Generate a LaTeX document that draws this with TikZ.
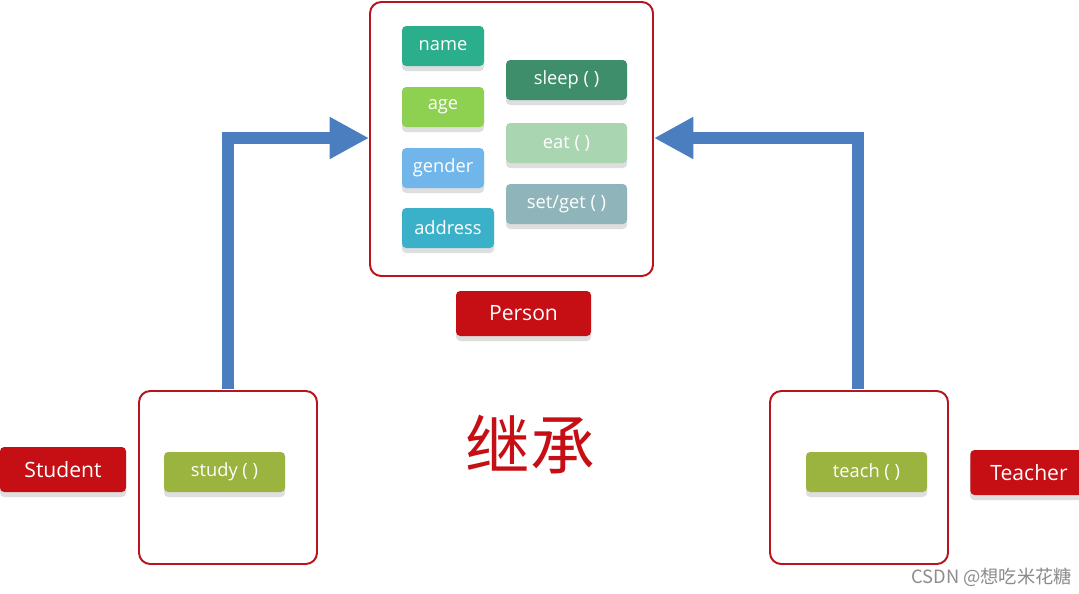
\documentclass[tikz,border=0pt]{standalone}
\usepackage{fontspec}
\setmainfont{Open Sans}
\newfontfamily\cjk{Noto Sans CJK SC}
\usetikzlibrary{arrows.meta}
\definecolor{redb}{HTML}{B8141C}
\definecolor{redf}{HTML}{C50F15}
\definecolor{arrowblue}{HTML}{4A7EBF}
\definecolor{cA}{HTML}{2AAE8C}
\definecolor{cB}{HTML}{8ED150}
\definecolor{cC}{HTML}{71B6EA}
\definecolor{cD}{HTML}{3AB1C9}
\definecolor{cE}{HTML}{3E8E6B}
\definecolor{cF}{HTML}{A9D6B1}
\definecolor{cG}{HTML}{8FB5BA}
\definecolor{cH}{HTML}{9BB33F}
\tikzset{
 x=0.025cm,y=-0.025cm,
 frame/.style={draw=redb,line width=1.4pt,rounded corners=8pt,fill=white},
 pill/.style={rounded corners=3pt,text=white,font=\fontsize{13}{15}\selectfont},
 lbl/.style={rounded corners=3pt,fill=redf,text=white,font=\fontsize{15}{18}\selectfont},
 shad/.style={rounded corners=3pt,fill=black!13},
 inh/.style={draw=arrowblue,line width=9pt,-{Triangle[length=28pt,width=28pt]}}
}
\newcommand{\pillbox}[6]{%
 \fill[shad] (#2,#3+5) rectangle (#4,#5+5);
 \node[pill,fill=#6,minimum width={(#4-#2)*0.025cm},minimum height={(#5-#3)*0.025cm},inner sep=0pt] (#1) at ({(#2+#4)/2},{(#3+#5)/2}) {};}
\begin{document}
\begin{tikzpicture}
\useasboundingbox (0,0) rectangle (1079,593);
\fill[white] (0,0) rectangle (1079,593);
\coordinate (ls) at (228,389); \coordinate (lc) at (228,138);
\coordinate (rs) at (858,389); \coordinate (rc) at (858,138);
\node[frame,minimum width={283*0.025cm},minimum height={274*0.025cm}] (person) at (511.5,139) {};
\draw[inh] (ls) -- (lc) -- (person.west|-lc);
\draw[inh] (rs) -- (rc) -- (person.east|-rc);
\pillbox{n1}{402}{26}{484}{66}{cA}
\pillbox{n2}{402}{87}{484}{127}{cB}
\pillbox{n3}{402}{148}{484}{188}{cC}
\pillbox{n4}{402}{208}{494}{248}{cD}
\pillbox{m1}{506}{60}{627}{100}{cE}
\pillbox{m2}{506}{123}{627}{163}{cF}
\pillbox{m3}{506}{184}{627}{224}{cG}
\node[pill] at (n1) {name};
\node[pill] at (n2) {age};
\node[pill] at (n3) {gender};
\node[pill] at (n4) {address};
\node[pill] at (m1) {sleep ( )};
\node[pill] at (m2) {eat ( )};
\node[pill] at (m3) {set/get ( )};
\fill[shad] (456,296) rectangle (591,341);
\node[lbl,minimum width={135*0.025cm},minimum height={45*0.025cm},inner sep=0pt] (pl) at (523.5,313.5) {Person};
\node[frame,minimum width={178*0.025cm},minimum height={173*0.025cm}] (sbox) at (228,477.5) {};
\pillbox{st}{164}{452}{285}{492}{cH}
\node[pill] at (st) {study ( )};
\fill[shad] (0,452) rectangle (126,497);
\node[lbl,minimum width={126*0.025cm},minimum height={45*0.025cm},inner sep=0pt] (sl) at (63,469.5) {Student};
\node[frame,minimum width={178*0.025cm},minimum height={173*0.025cm}] (tbox) at (859,477.5) {};
\pillbox{te}{806}{452}{927}{492}{cH}
\node[pill] at (te) {teach ( )};
\fill[shad] (970,455) rectangle (1090,500);
\node[lbl,minimum width={120*0.025cm},minimum height={45*0.025cm},inner sep=0pt,anchor=west,text width={105*0.025cm},align=left] (tl) at (970,472.5) {\hspace*{0.6em}Teacher};
\node[text=redf,font=\cjk\fontsize{46}{50}\selectfont] (jc) at (530,445) {继承};
\node[text=black!45,font=\cjk\fontsize{13}{15}\selectfont,anchor=east] (wm) at (1077,577) {CSDN @想吃米花糖};
\end{tikzpicture}
\end{document}
